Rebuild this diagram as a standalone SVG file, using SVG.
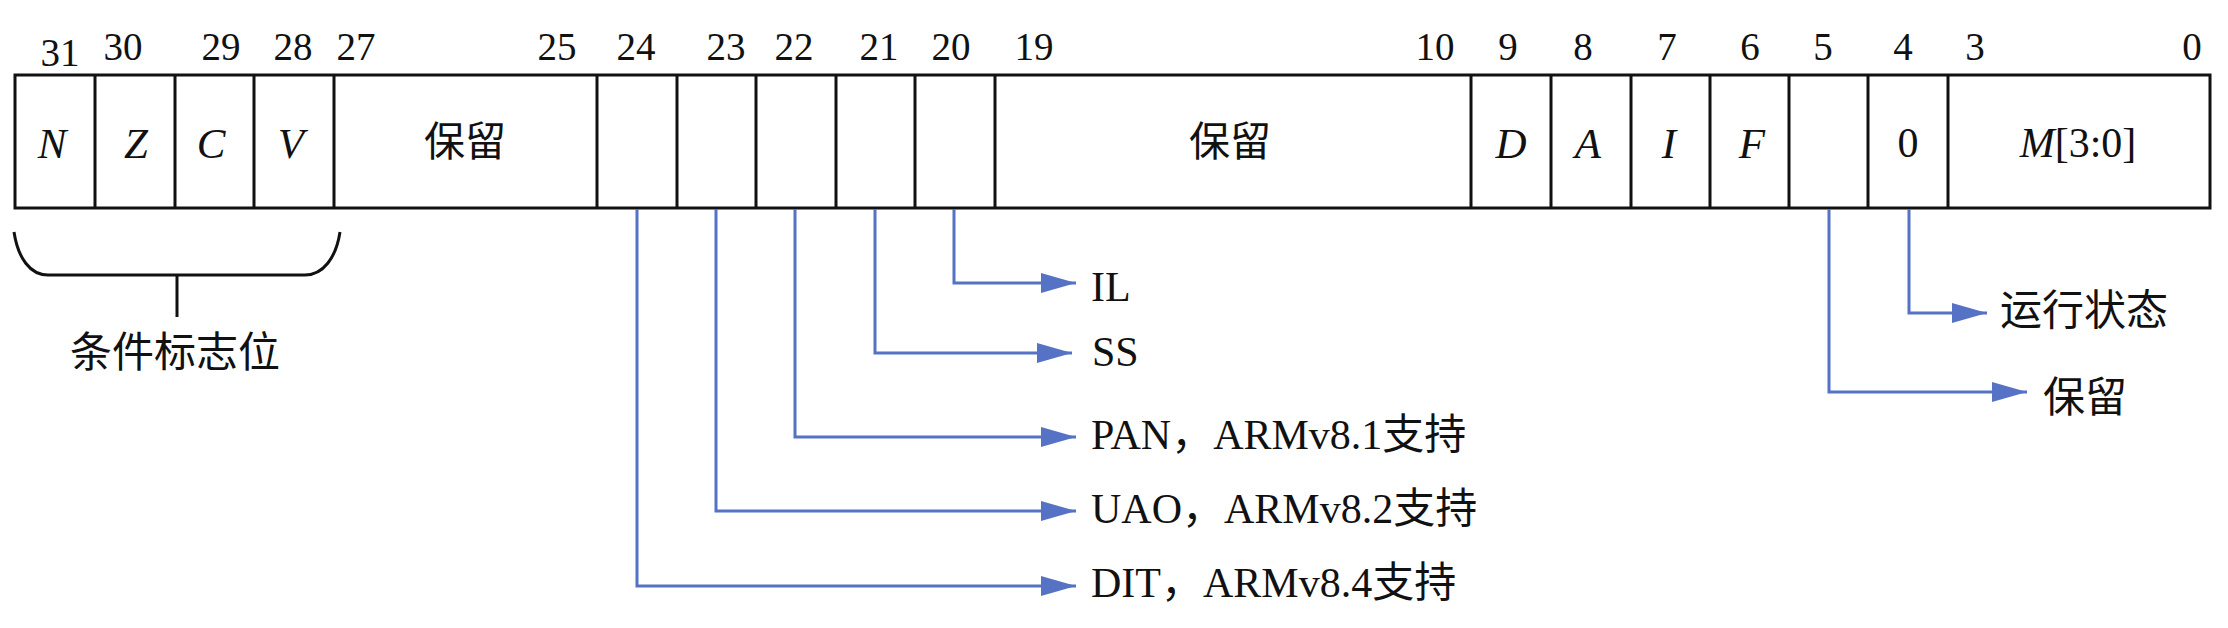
<svg xmlns="http://www.w3.org/2000/svg" width="2228" height="628" viewBox="0 0 2228 628">
<style>
.num{font-family:"Liberation Serif","Noto Sans CJK SC",serif;font-size:39px;fill:#111;text-anchor:middle}
.let{font-family:"Liberation Serif",serif;font-size:43px;font-style:italic;fill:#111;text-anchor:middle}
.cjk{font-family:"Liberation Serif","Noto Sans CJK SC",sans-serif;font-size:41px;fill:#111;text-anchor:middle}
.lbl{font-family:"Liberation Serif","Noto Sans CJK SC",serif;font-size:42px;fill:#111}
.box{fill:none;stroke:#111;stroke-width:3}
.conn{fill:none;stroke:#5572C4;stroke-width:3;marker-end:url(#arr)}
</style>
<defs>
<marker id="arr" markerUnits="userSpaceOnUse" markerWidth="36" markerHeight="22" refX="35" refY="11" orient="auto">
<path d="M0,1 L35,11 L0,21 z" fill="#5572C4"/>
</marker>
</defs>
<rect width="2228" height="628" fill="#fff"/>
<g id="register">
<rect class="box" x="15" y="75" width="2195" height="133"/>
<path class="box" d="M95,75V208M175,75V208M254,75V208M334,75V208M597,75V208M677,75V208M756,75V208M836,75V208M915,75V208M995,75V208M1471,75V208M1551,75V208M1631,75V208M1710,75V208M1789,75V208M1868,75V208M1948,75V208"/>
</g>
<g id="bit-numbers">
<text class="num" x="60" y="66">31</text>
<text class="num" x="123" y="60">30</text>
<text class="num" x="221" y="60">29</text>
<text class="num" x="293" y="60">28</text>
<text class="num" x="356" y="60">27</text>
<text class="num" x="557" y="60">25</text>
<text class="num" x="636" y="60">24</text>
<text class="num" x="726" y="60">23</text>
<text class="num" x="794" y="60">22</text>
<text class="num" x="879" y="60">21</text>
<text class="num" x="951" y="60">20</text>
<text class="num" x="1034" y="60">19</text>
<text class="num" x="1435" y="60">10</text>
<text class="num" x="1508" y="60">9</text>
<text class="num" x="1583" y="60">8</text>
<text class="num" x="1667" y="60">7</text>
<text class="num" x="1750" y="60">6</text>
<text class="num" x="1823" y="60">5</text>
<text class="num" x="1903" y="60">4</text>
<text class="num" x="1975" y="60">3</text>
<text class="num" x="2192" y="60">0</text>
</g>
<g id="fields">
<text class="let" x="52" y="158">N</text>
<text class="let" x="136" y="158">Z</text>
<text class="let" x="211" y="158">C</text>
<text class="let" x="291" y="158">V</text>
<text class="cjk" x="465" y="156">保留</text>
<text class="cjk" x="1230" y="156">保留</text>
<text class="let" x="1511" y="158">D</text>
<text class="let" x="1588" y="158">A</text>
<text class="let" x="1669" y="158">I</text>
<text class="let" x="1752" y="158">F</text>
<text class="num" x="1908" y="157" style="font-size:42px">0</text>
<text class="num" x="2078" y="157" style="font-size:42px"><tspan font-style="italic">M</tspan>[3:0]</text>
</g>
<g id="brace">
<path class="box" d="M14,232 C18,258 30,275 48,275 L305,275 C323,275 336,258 340,232 M177,275 V317"/>
<text class="cjk" x="175" y="367" style="font-size:42px">条件标志位</text>
</g>
<g id="connectors">
<path class="conn" d="M954,209 V283 H1076"/>
<path class="conn" d="M875,209 V353 H1072"/>
<path class="conn" d="M795,209 V437 H1076"/>
<path class="conn" d="M716,209 V511 H1076"/>
<path class="conn" d="M637,209 V586 H1076"/>
<path class="conn" d="M1909,209 V313 H1987"/>
<path class="conn" d="M1829,209 V392 H2027"/>
</g>
<g id="labels">
<text class="lbl" x="1091" y="301">IL</text>
<text class="lbl" x="1092" y="366">SS</text>
<text class="lbl" x="1091" y="449">PAN，ARMv8.1支持</text>
<text class="lbl" x="1091" y="523">UAO，ARMv8.2支持</text>
<text class="lbl" x="1091" y="597">DIT，ARMv8.4支持</text>
<text class="lbl" x="2000" y="325">运行状态</text>
<text class="lbl" x="2043" y="412">保留</text>
</g>
</svg>
